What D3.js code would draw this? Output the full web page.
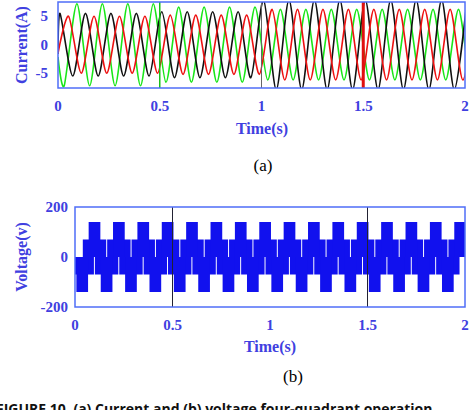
<!DOCTYPE html><html><head><meta charset="utf-8">
<script src="https://cdn.jsdelivr.net/npm/d3@7"></script>
<style>body{margin:0;background:#fff}svg{display:block}</style></head><body>
<svg id="c" width="474" height="410"></svg>
<script>
// ---- data ----
const xTicks=[0,0.5,1,1.5,2];
const xTickLabels=["0","0.5","1","1.5","2"];
const currentTicks=[-5,0,5];
const voltageTicks=[-200,0,200];
const blackPeaks=[0.01,0.135,0.26,0.385,0.51,0.635,0.76,0.885,1.01,1.135,1.26,1.385,1.51,1.635,1.76,1.885];
const redPeaks=[0.052,0.177,0.302,0.427,0.552,0.677,0.802,0.927,1.052,1.177,1.302,1.427,1.552,1.677,1.802,1.927];
const greenPeaks=[0.093,0.218,0.343,0.468,0.593,0.718,0.843,0.968,1.093,1.218,1.343,1.468,1.593,1.718,1.843,1.968];
const segBounds=[0,0.5,1,1.5,2];
const blackAmp=[5.5,5.8,7.9,7.9];
const redAmp=[5,5.2,6.2,6.2];
const greenAmp=[7.2,6.6,6.2,6.2];
const posCenters=[0.1,0.225,0.35,0.475,0.6,0.725,0.85,0.975,1.1,1.225,1.35,1.475,1.6,1.725,1.85,1.975];
const negCenters=[0.037,0.162,0.287,0.412,0.537,0.662,0.787,0.912,1.037,1.162,1.287,1.412,1.537,1.662,1.787,1.912];
const levels=[70,140];
const blockHalf=[0.06,0.03];

const blue="#4040e0", frame="#4f6ef7";
const svg=d3.select("#c");
const font="'Liberation Serif',serif";
function wave(peaks,amps){
  const a=t=>amps[Math.min(3,Math.floor(t/0.5))];
  const pts=[[0,-a(0)*0.3]];
  const f=peaks[0]-0.0625; if(f>0) pts.push([f,-a(f)]);
  peaks.forEach((p,i)=>{
    pts.push([p,a(p)]);
    const m=p+0.0625; if(m<=2.05) pts.push([m,-a(Math.min(m,1.99))]);
  });
  const last=peaks[peaks.length-1]+0.125; if(last<=2.1) pts.push([last,a(1.99)]);
  return pts;
}
// ---- top chart ----
const x1=d3.scaleLinear().domain([0,2]).range([58,465]);
const y1=d3.scaleLinear().domain([-7.6,7.5]).range([88,2]);
svg.append("clipPath").attr("id","cp1").append("rect").attr("x",58).attr("y",2).attr("width",407).attr("height",86);
const g1=svg.append("g").attr("clip-path","url(#cp1)");
const line1=d3.line().x(d=>x1(d[0])).y(d=>y1(d[1])).curve(d3.curveCardinal.tension(0.2));
[[greenPeaks,greenAmp,"#19e619"],[blackPeaks,blackAmp,"#111"],[redPeaks,redAmp,"#ee1111"]].forEach(([p,a,c])=>{
  g1.append("path").attr("d",line1(wave(p,a))).attr("fill","none").attr("stroke",c).attr("stroke-width",1.6);
});
[[0.5,"#19c019",1.5],[1,"#666",1],[1.5,"#e01010",3]].forEach(([t,c,w])=>g1.append("line").attr("x1",x1(t)).attr("x2",x1(t)).attr("y1",2).attr("y2",88).attr("stroke",c).attr("stroke-width",w));
svg.append("rect").attr("x",58).attr("y",2).attr("width",407).attr("height",86).attr("fill","none").attr("stroke",frame).attr("stroke-width",1.5);
function texts(g){g.attr("font-family",font).attr("fill",blue).attr("font-weight","bold");return g;}
const ta=texts(svg.append("g"));
ta.selectAll(".xt").data(xTicks).join("text").attr("x",d=>x1(d)).attr("y",111).attr("text-anchor","middle").attr("font-size",15).text((d,i)=>xTickLabels[i]);
ta.selectAll(".yt").data(currentTicks).join("text").attr("x",48).attr("y",d=>y1(d)+5).attr("text-anchor","end").attr("font-size",15).text(d=>d);
ta.append("text").attr("transform","translate(27,45) rotate(-90)").attr("text-anchor","middle").attr("font-size",16).text("Current(A)");
ta.append("text").attr("x",262).attr("y",134).attr("text-anchor","middle").attr("font-size",16).text("Time(s)");
svg.append("text").attr("x",263).attr("y",171).attr("text-anchor","middle").attr("font-family",font).attr("font-size",17).text("(a)");
// ---- bottom chart ----
const x2=d3.scaleLinear().domain([0,2]).range([75,465]);
const y2=d3.scaleLinear().domain([-200,200]).range([307,207]);
svg.append("clipPath").attr("id","cp2").append("rect").attr("x",75).attr("y",207).attr("width",390).attr("height",100);
const g2=svg.append("g").attr("clip-path","url(#cp2)");
function blocks(centers,sign){
  centers.forEach(c=>{
    levels.forEach((lv,i)=>{
      const a=Math.max(0,c-blockHalf[i]), b=Math.min(2,c+blockHalf[i]);
      g2.append("rect").attr("x",x2(a)).attr("width",x2(b)-x2(a))
        .attr("y",sign>0?y2(lv):y2(0)).attr("height",Math.abs(y2(lv)-y2(0))).attr("fill","#1111ee");
    });
  });
}
blocks(posCenters,1);blocks(negCenters,-1);
[0.5,1.5].forEach(t=>g2.append("line").attr("x1",x2(t)).attr("x2",x2(t)).attr("y1",207).attr("y2",307).attr("stroke","#223").attr("stroke-width",1));
svg.append("rect").attr("x",75).attr("y",207).attr("width",390).attr("height",100).attr("fill","none").attr("stroke",frame).attr("stroke-width",1.5);
const tb=texts(svg.append("g"));
tb.selectAll(".xt").data(xTicks).join("text").attr("x",d=>x2(d)).attr("y",330).attr("text-anchor","middle").attr("font-size",15).text((d,i)=>xTickLabels[i]);
tb.selectAll(".yt").data(voltageTicks).join("text").attr("x",68).attr("y",d=>y2(d)+5).attr("text-anchor","end").attr("font-size",15).text(d=>d);
tb.append("text").attr("transform","translate(27,257) rotate(-90)").attr("text-anchor","middle").attr("font-size",16).text("Voltage(v)");
tb.append("text").attr("x",270).attr("y",352).attr("text-anchor","middle").attr("font-size",16).text("Time(s)");
svg.append("text").attr("x",293).attr("y",382).attr("text-anchor","middle").attr("font-family",font).attr("font-size",17).text("(b)");
svg.append("text").attr("x",-4).attr("y",414).attr("font-family","'Open Sans',sans-serif").attr("font-weight","bold").attr("font-size",14).attr("fill","#111").text("FIGURE 10.  (a) Current and (b) voltage four-quadrant operation.");
</script></body></html>
